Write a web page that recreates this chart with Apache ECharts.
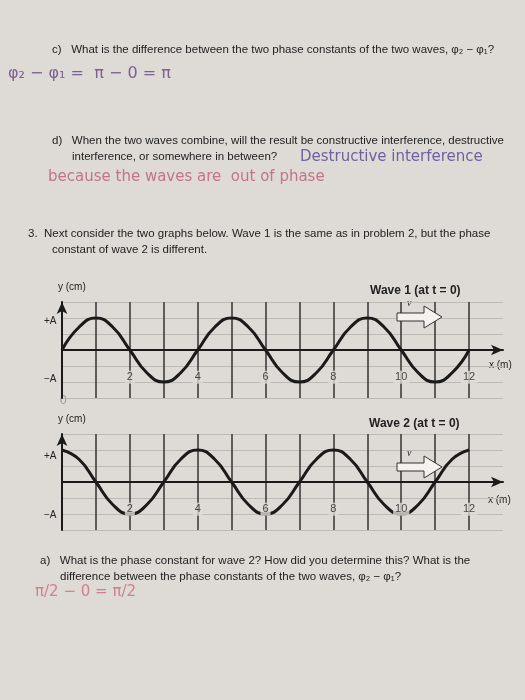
<!DOCTYPE html>
<html><head><meta charset="utf-8">
<script src="https://cdn.jsdelivr.net/npm/echarts@6/dist/echarts.min.js"></script>
<style>html,body{margin:0;padding:0;background:#dedbd6}#c{width:525px;height:700px}</style>
</head><body><div id="c"></div>
<script>
const xs = [0,0.5,1,1.5,2,2.5,3,3.5,4,4.5,5,5.5,6,6.5,7,7.5,8,8.5,9,9.5,10,10.5,11,11.5,12];
const wave1 = [0,0.71,1,0.71,0,-0.71,-1,-0.71,0,0.71,1,0.71,0,-0.71,-1,-0.71,0,0.71,1,0.71,0,-0.71,-1,-0.71,0];
const wave2 = [1,0.71,0,-0.71,-1,-0.71,0,0.71,1,0.71,0,-0.71,-1,-0.71,0,0.71,1,0.71,0,-0.71,-1,-0.71,0,0.71,1];
const xTickLabels = ['2','4','6','8','10','12'];
const chart = echarts.init(document.getElementById('c'));
function xAxis(i){return {gridIndex:i,type:'value',min:0,max:13,interval:1,
  axisLine:{show:true,onZero:true,symbol:['none','arrow'],symbolSize:[8,12],lineStyle:{color:'#1a1a1a',width:2}},
  axisTick:{show:false},axisLabel:{show:false},
  splitLine:{show:true,showMinLine:false,showMaxLine:false,lineStyle:{color:'#333',width:1.5}}};}
function yAxis(i){return {gridIndex:i,type:'value',min:-1.5,max:1.5,interval:0.5,
  axisLine:{show:true,onZero:false,symbol:['none','arrow'],symbolSize:[8,12],lineStyle:{color:'#1a1a1a',width:2}},
  axisTick:{show:false},axisLabel:{show:false},
  splitLine:{show:true,lineStyle:{color:'#bdbab5',width:1}}};}
function ser(i,d){return {type:'line',xAxisIndex:i,yAxisIndex:i,smooth:true,symbol:'none',
  data:xs.map((x,k)=>[x,d[k]]),lineStyle:{color:'#1a1a1a',width:3},z:5};}
function tickLabels(i){return {type:'scatter',xAxisIndex:i,yAxisIndex:i,symbolSize:0,
  data:xTickLabels.map(t=>[+t,-0.85]),
  label:{show:true,position:'inside',formatter:p=>xTickLabels[p.dataIndex],color:'#222',fontSize:11,fontFamily:'Liberation Sans',
   backgroundColor:'#dedbd6',padding:[1,2]},z:6};}
const T=(l,t,s,o)=>Object.assign({type:'text',left:l,top:t,style:Object.assign({text:s,fill:'#222',font:'11.5px "Liberation Sans"'},o||{})});
const H=(l,t,s,c,sz)=>({type:'text',left:l,top:t,style:{text:s,fill:c,font:(sz||16)+'px "DejaVu Sans"',opacity:0.85}});
chart.setOption({
  animation:false,
  backgroundColor:'#dedbd6',
  grid:[{left:62,width:441,top:302,height:96},{left:62,width:441,top:434,height:96}],
  xAxis:[xAxis(0),xAxis(1)],
  yAxis:[yAxis(0),yAxis(1)],
  series:[ser(0,wave1),tickLabels(0),ser(1,wave2),tickLabels(1)],
  graphic:[
    T(52,44,'c)   What is the difference between the two phase constants of the two waves, φ₂ − φ₁?'),
    H(8,66,'φ₂ − φ₁ =  π − 0 = π','#6b4a8a',16),
    T(52,135,'d)   When the two waves combine, will the result be constructive interference, destructive'),
    T(72,151,'interference, or somewhere in between?'),
    H(300,150,'Destructive interference','#5a4a9a',15),
    H(48,170,'because the waves are  out of phase','#c0607a',15),
    T(28,228,'3.  Next consider the two graphs below. Wave 1 is the same as in problem 2, but the phase'),
    T(52,244,'constant of wave 2 is different.'),
    T(58,282,'y (cm)',{font:'10px "Liberation Sans"'}),
    T(370,285,'Wave 1 (at t = 0)',{font:'bold 12px "Liberation Sans"'}),
    T(44,316,'+A',{font:'10px "Liberation Sans"'}),
    T(44,374,'−A',{font:'10px "Liberation Sans"'}),
    T(489,360,'x (m)',{font:'10px "Liberation Sans"'}),
    T(60,395,'0',{fill:'#999',font:'12px "Liberation Sans"'}),
    T(58,414,'y (cm)',{font:'10px "Liberation Sans"'}),
    T(369,418,'Wave 2 (at t = 0)',{font:'bold 12px "Liberation Sans"'}),
    T(44,451,'+A',{font:'10px "Liberation Sans"'}),
    T(44,510,'−A',{font:'10px "Liberation Sans"'}),
    T(488,495,'x (m)',{font:'10px "Liberation Sans"'}),
    {type:'polygon',shape:{points:[[397,313],[424,313],[424,306],[442,317],[424,328],[424,321],[397,321]]},style:{fill:'#f4f2ee',stroke:'#333',lineWidth:1},z:10},
    T(407,298,'v⃗',{font:'italic 10px "Liberation Serif"'}),
    {type:'polygon',shape:{points:[[397,463],[424,463],[424,456],[442,467],[424,478],[424,471],[397,471]]},style:{fill:'#f4f2ee',stroke:'#333',lineWidth:1},z:10},
    T(407,448,'v⃗',{font:'italic 10px "Liberation Serif"'}),
    T(40,555,'a)   What is the phase constant for wave 2? How did you determine this? What is the'),
    T(60,571,'difference between the phase constants of the two waves, φ₂ − φ₁?'),
    H(35,585,'π/2 − 0 = π/2','#d07080',15)
  ]
});
</script></body></html>
